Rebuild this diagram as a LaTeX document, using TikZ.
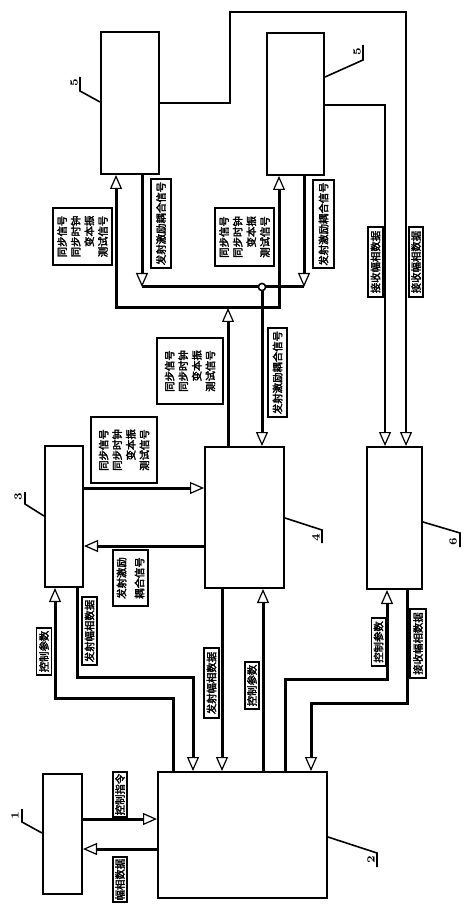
\documentclass[tikz,border=0pt]{standalone}
\usepackage{fontspec}
\newfontfamily\cjk[FakeBold=2.5]{Noto Sans CJK SC}
\usetikzlibrary{arrows.meta}
\begin{document}
\begin{tikzpicture}[x=0.5pt,y=-0.5pt,
  tip/.tip={Triangle[open, length=7pt, width=6pt, line width=0.6pt]},
  blk/.style={draw, line width=1pt, inner sep=0pt},
  lbl/.style={draw, line width=0.9pt, rotate=90, inner sep=1pt, font=\cjk\fontsize{5.2}{6}\selectfont},
  mlbl/.style={draw, line width=0.9pt, rotate=90, inner sep=1pt, align=right, font=\cjk\fontsize{5.2}{6.8}\selectfont},
  num/.style={rotate=90, inner sep=0.5pt, font=\bfseries\fontsize{5.5}{6}\selectfont},
  ln/.style={line width=1.5pt},
  thn/.style={line width=1.1pt},
  arr/.style={ln, -tip},
  arrt/.style={thn, -tip},
  lead/.style={line width=0.8pt}
]
\useasboundingbox (0,0) rectangle (474,908);

% boxes
\node[blk, minimum width=19.5pt, minimum height=60pt] (b1) at (62.5,834) {};
\node[blk, minimum width=84.5pt, minimum height=63pt] (b2) at (242.5,835) {};
\node[blk, minimum width=19pt, minimum height=70.5pt] (b3) at (64,516.5) {};
\node[blk, minimum width=39.5pt, minimum height=70.5pt] (b4) at (244.5,517.5) {};
\node[blk, minimum width=27.5pt, minimum height=71pt] (b6) at (394.5,518) {};
\node[blk, minimum width=29pt, minimum height=71pt] (b5a) at (130,103) {};
\node[blk, minimum width=28.5pt, minimum height=71pt] (b5b) at (295.5,104) {};

% box 1 <-> box 2
\draw[arr] (b1.east |- 0,819) -- (b2.west |- 0,819);
\draw[arr] (b2.west |- 0,849) -- (b1.east |- 0,849);

% box 2 <-> box 3
\draw[arr] (b2.north -| 173,0) |- (55,698) -- (b3.south -| 55,0);
\draw[arr] (b3.south -| 77,0) |- (193,677) -- (b2.north -| 193,0);

% box 2 <-> box 4
\draw[arr] (b4.south -| 222,0) -- (b2.north -| 222,0);
\draw[arr] (b2.north -| 263,0) -- (b4.south -| 263,0);

% box 2 <-> box 6
\draw[arr] (b2.north -| 285,0) |- (387,679) -- (b6.south -| 387,0);
\draw[arr] (b6.south -| 407,0) |- (311,703) -- (b2.north -| 311,0);

% box 3 <-> box 4
\draw[arr] (b3.east |- 0,488) -- (b4.west |- 0,488);
\draw[arr] (b4.west |- 0,546) -- (b3.east |- 0,546);

% bus to boxes 5
\coordinate (busL) at (116,308);
\coordinate (busR) at (279,308);
\coordinate (busM) at (228,308);
\draw[ln, tip-tip] (b5a.south -| busL) -- (busL) -- (busR) -- (b5b.south -| busR);
\draw[arr] (b4.north -| busM) -- (busM);

% feedback from boxes 5 to box 4
\coordinate (fbL) at (142,287);
\coordinate (fbR) at (304,287);
\draw[arr] (b5a.south -| fbL) -- (fbL);
\draw[arr] (b5b.south -| fbR) -- (fbR);
\draw[ln] (fbL) -- (fbR);
\node[circle, draw, fill=white, inner sep=0pt, minimum size=3.6pt, line width=0.8pt] (jn) at (262,287) {};
\draw[arr] (jn.south) -- (b4.north -| jn);

% boxes 5 -> box 6
\draw[arrt] (b5a.east |- 0,103) -| (230,12) -| (b6.north -| 406,0);
\draw[arrt] (b5b.east |- 0,105) -| (b6.north -| 385,0);

% labels
\node[lbl, minimum width=22.5pt, minimum height=7pt] (l1) at (120,794.5) {控制指令};
\node[lbl, minimum width=22.5pt, minimum height=7pt] (l2) at (120,879.5) {幅相数据};
\node[lbl, minimum width=23.5pt, minimum height=7.5pt] (l3) at (44,651.5) {控制参数};
\node[lbl, minimum width=34pt, minimum height=7.5pt] (l4) at (89.5,631) {发射幅相数据};
\node[lbl, minimum width=35pt, minimum height=7.5pt] (l5) at (211.5,683) {发射幅相数据};
\node[lbl, minimum width=23.5pt, minimum height=7pt] (l6) at (252,685.5) {控制参数};
\node[lbl, minimum width=24pt, minimum height=7pt] (l7) at (378.5,642) {控制参数};
\node[lbl, minimum width=34.5pt, minimum height=8pt] (l8) at (418,643.5) {接收幅相数据};
\node[lbl, minimum width=44.5pt, minimum height=9.5pt] (l9) at (277.5,372.5) {发射激励耦合信号};
\node[lbl, minimum width=44.5pt, minimum height=10pt] (l10) at (161,223.5) {发射激励耦合信号};
\node[lbl, minimum width=44pt, minimum height=10.5pt] (l11) at (323.5,224) {发射激励耦合信号};
\node[lbl, minimum width=35pt, minimum height=7.5pt] (l12) at (375.5,262) {接收幅相数据};
\node[lbl, minimum width=35pt, minimum height=7pt] (l13) at (416,262) {接收幅相数据};

\node[mlbl, minimum width=28.5pt, minimum height=29.5pt] (m1) at (82.5,236.5) {同步信号\\同步时钟\\变本振\\测试信号};
\node[mlbl, minimum width=29pt, minimum height=29.5pt] (m2) at (244.5,237) {同步信号\\同步时钟\\变本振\\测试信号};
\node[mlbl, minimum width=33pt, minimum height=33pt] (m3) at (190,371) {同步信号\\同步时钟\\变本振\\测试信号};
\node[mlbl, minimum width=33pt, minimum height=33pt] (m4) at (124,450) {同步信号\\同步时钟\\变本振\\测试信号};
\node[mlbl, align=center, font=\cjk\fontsize{5.2}{9}\selectfont, minimum width=28pt, minimum height=17.5pt] (m5) at (130.5,578) {发射激励\\耦合信号};

% reference numerals
\node[num] (n1) at (15,816) {1};
\draw[lead] (22,809) -- (22,822) -- (b1.west |- 0,833);
\node[num] (n2) at (371,860) {2};
\draw[lead] (b2.east |- 0,837) -- (377,853) -- (377,867);
\node[num] (n3) at (18,497) {3};
\draw[lead] (25,492) -- (25,504) -- (b3.west |- 0,516);
\node[num] (n4) at (316,538) {4};
\draw[lead] (b4.east |- 0,518) -- (322,530) -- (322,543);
\node[num] (n6) at (453,542) {6};
\draw[lead] (b6.east |- 0,522) -- (460,533) -- (460,547);
\node[num] (n5a) at (74,83) {5};
\draw[lead] (80,77) -- (80,91) -- (b5a.west |- 0,102);
\node[num] (n5b) at (357,52) {5};
\draw[lead] (b5b.east |- 0,77) -- (363,60) -- (363,45);
\end{tikzpicture}
\end{document}
